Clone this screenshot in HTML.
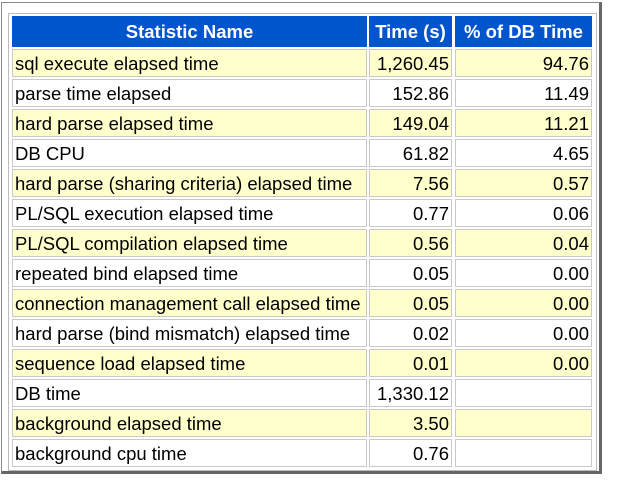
<!DOCTYPE html>
<html><head><meta charset="utf-8"><style>
body{margin:0;width:621px;height:480px;background:#fff;font-family:"Liberation Sans",Arial,sans-serif;position:relative;overflow:hidden}
#frame{position:absolute;left:1px;top:2px;width:601px;height:472px;border:1px solid #888;border-right:3px solid #666;border-bottom:3px solid #666;box-sizing:border-box}
#tbl{position:absolute;left:8px;top:13px;width:589px;height:458px;border:1px solid #bbb;box-sizing:border-box}
.c{position:absolute;box-sizing:border-box;border:1px solid #c8c8c8;font-size:18.5px;line-height:28px;color:#000;padding:0 2px;white-space:nowrap;overflow:hidden}
.h{background:#0055cc;color:#fff;font-weight:bold;text-align:center;border-color:#0055cc;line-height:29px}
.y{background:#ffffcc}
.r{text-align:right}
</style></head><body>
<div id="frame"></div>
<div id="tbl"></div>
<div id="cells"></div>
<script>
const names=["sql execute elapsed time","parse time elapsed","hard parse elapsed time","DB CPU","hard parse (sharing criteria) elapsed time","PL/SQL execution elapsed time","PL/SQL compilation elapsed time","repeated bind elapsed time","connection management call elapsed time","hard parse (bind mismatch) elapsed time","sequence load elapsed time","DB time","background elapsed time","background cpu time"];
const times=["1,260.45","152.86","149.04","61.82","7.56","0.77","0.56","0.05","0.05","0.02","0.01","1,330.12","3.50","0.76"];
const pcts=["94.76","11.49","11.21","4.65","0.57","0.06","0.04","0.00","0.00","0.00","0.00","","",""];
const headers=["Statistic Name","Time (s)","% of DB Time"];
const cols=[[12,355],[369,83],[455,137]];
const root=document.getElementById('cells');
function cell(x,y,w,h,txt,cls,name){
  const d=document.createElement('div');
  d.className='c '+cls;
  d.style.left=x+'px';d.style.top=y+'px';d.style.width=w+'px';d.style.height=h+'px';
  d.textContent=txt;
  
  
  root.appendChild(d);
}
headers.forEach((t,i)=>cell(cols[i][0],16,cols[i][1],31,t,'h','header-'+i));
names.forEach((n,r)=>{
  const y=49+r*30, cls=r%2===0?'y':'';
  cell(cols[0][0],y,cols[0][1],28,n,cls,'statistic-name');
  cell(cols[1][0],y,cols[1][1],28,times[r],cls+' r','time-value');
  cell(cols[2][0],y,cols[2][1],28,pcts[r],cls+' r','pct-db-time');
});
</script>
</body></html>
